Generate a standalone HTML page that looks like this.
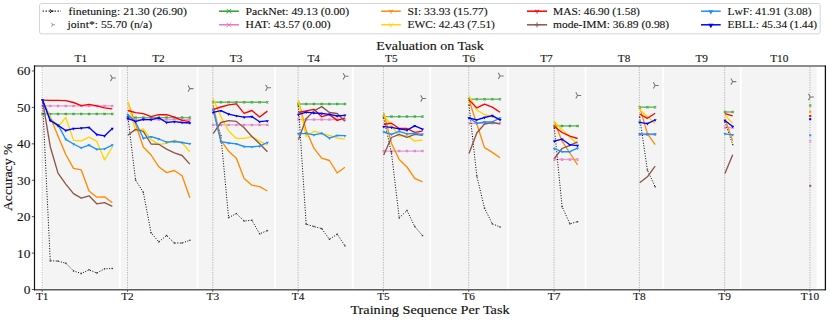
<!DOCTYPE html><html><head><meta charset="utf-8"><style>html,body{margin:0;padding:0;background:#fff;width:830px;height:320px;overflow:hidden}</style></head><body><svg width="830" height="320" viewBox="0 0 830 320" style="display:block">
<rect width="830" height="320" fill="#ffffff"/>
<rect x="43.2" y="67.4" width="75.8" height="221.2" fill="#f4f4f4"/>
<rect x="120.8" y="67.4" width="75.8" height="221.2" fill="#f4f4f4"/>
<rect x="198.4" y="67.4" width="75.8" height="221.2" fill="#f4f4f4"/>
<rect x="276" y="67.4" width="75.8" height="221.2" fill="#f4f4f4"/>
<rect x="353.6" y="67.4" width="75.8" height="221.2" fill="#f4f4f4"/>
<rect x="431.2" y="67.4" width="75.8" height="221.2" fill="#f4f4f4"/>
<rect x="508.8" y="67.4" width="75.8" height="221.2" fill="#f4f4f4"/>
<rect x="586.4" y="67.4" width="75.8" height="221.2" fill="#f4f4f4"/>
<rect x="664" y="67.4" width="75.8" height="221.2" fill="#f4f4f4"/>
<rect x="741.6" y="67.4" width="75" height="221.2" fill="#f4f4f4"/>
<line x1="42.2" y1="67" x2="42.2" y2="289" stroke="#b0b0b0" stroke-width="0.9" stroke-dasharray="1.25 1.25"/>
<line x1="127.5" y1="67" x2="127.5" y2="289" stroke="#b0b0b0" stroke-width="0.9" stroke-dasharray="1.25 1.25"/>
<line x1="212.81" y1="67" x2="212.81" y2="289" stroke="#b0b0b0" stroke-width="0.9" stroke-dasharray="1.25 1.25"/>
<line x1="298.11" y1="67" x2="298.11" y2="289" stroke="#b0b0b0" stroke-width="0.9" stroke-dasharray="1.25 1.25"/>
<line x1="383.42" y1="67" x2="383.42" y2="289" stroke="#b0b0b0" stroke-width="0.9" stroke-dasharray="1.25 1.25"/>
<line x1="468.72" y1="67" x2="468.72" y2="289" stroke="#b0b0b0" stroke-width="0.9" stroke-dasharray="1.25 1.25"/>
<line x1="554.03" y1="67" x2="554.03" y2="289" stroke="#b0b0b0" stroke-width="0.9" stroke-dasharray="1.25 1.25"/>
<line x1="639.34" y1="67" x2="639.34" y2="289" stroke="#b0b0b0" stroke-width="0.9" stroke-dasharray="1.25 1.25"/>
<line x1="724.64" y1="67" x2="724.64" y2="289" stroke="#b0b0b0" stroke-width="0.9" stroke-dasharray="1.25 1.25"/>
<line x1="809.95" y1="67" x2="809.95" y2="289" stroke="#b0b0b0" stroke-width="0.9" stroke-dasharray="1.25 1.25"/>
<polyline points="42.5,113.9 50.26,113.9 58.01,113.9 65.77,113.9 73.52,113.9 81.28,113.9 89.03,113.9 96.78,113.9 104.54,113.9 112.3,113.9" fill="none" stroke="#2ca02c" stroke-opacity="0.7" stroke-width="1.4"/>
<path d="M41.4 112.8L43.6 115M41.4 115L43.6 112.8" stroke="#2ca02c" stroke-width="1.1" fill="none" stroke-opacity="0.8"/>
<path d="M49.16 112.8L51.36 115M49.16 115L51.36 112.8" stroke="#2ca02c" stroke-width="1.1" fill="none" stroke-opacity="0.8"/>
<path d="M56.91 112.8L59.11 115M56.91 115L59.11 112.8" stroke="#2ca02c" stroke-width="1.1" fill="none" stroke-opacity="0.8"/>
<path d="M64.67 112.8L66.86 115M64.67 115L66.86 112.8" stroke="#2ca02c" stroke-width="1.1" fill="none" stroke-opacity="0.8"/>
<path d="M72.42 112.8L74.62 115M72.42 115L74.62 112.8" stroke="#2ca02c" stroke-width="1.1" fill="none" stroke-opacity="0.8"/>
<path d="M80.18 112.8L82.38 115M80.18 115L82.38 112.8" stroke="#2ca02c" stroke-width="1.1" fill="none" stroke-opacity="0.8"/>
<path d="M87.93 112.8L90.13 115M87.93 115L90.13 112.8" stroke="#2ca02c" stroke-width="1.1" fill="none" stroke-opacity="0.8"/>
<path d="M95.69 112.8L97.88 115M95.69 115L97.88 112.8" stroke="#2ca02c" stroke-width="1.1" fill="none" stroke-opacity="0.8"/>
<path d="M103.44 112.8L105.64 115M103.44 115L105.64 112.8" stroke="#2ca02c" stroke-width="1.1" fill="none" stroke-opacity="0.8"/>
<path d="M111.2 112.8L113.39 115M111.2 115L113.39 112.8" stroke="#2ca02c" stroke-width="1.1" fill="none" stroke-opacity="0.8"/>
<polyline points="127.8,117.6 135.56,117.6 143.31,117.6 151.07,117.6 158.82,117.6 166.58,117.6 174.34,117.6 182.09,117.6 189.84,117.6" fill="none" stroke="#2ca02c" stroke-opacity="0.7" stroke-width="1.4"/>
<path d="M126.7 116.5L128.91 118.7M126.7 118.7L128.91 116.5" stroke="#2ca02c" stroke-width="1.1" fill="none" stroke-opacity="0.8"/>
<path d="M134.46 116.5L136.66 118.7M134.46 118.7L136.66 116.5" stroke="#2ca02c" stroke-width="1.1" fill="none" stroke-opacity="0.8"/>
<path d="M142.22 116.5L144.41 118.7M142.22 118.7L144.41 116.5" stroke="#2ca02c" stroke-width="1.1" fill="none" stroke-opacity="0.8"/>
<path d="M149.97 116.5L152.17 118.7M149.97 118.7L152.17 116.5" stroke="#2ca02c" stroke-width="1.1" fill="none" stroke-opacity="0.8"/>
<path d="M157.72 116.5L159.92 118.7M157.72 118.7L159.92 116.5" stroke="#2ca02c" stroke-width="1.1" fill="none" stroke-opacity="0.8"/>
<path d="M165.48 116.5L167.68 118.7M165.48 118.7L167.68 116.5" stroke="#2ca02c" stroke-width="1.1" fill="none" stroke-opacity="0.8"/>
<path d="M173.24 116.5L175.44 118.7M173.24 118.7L175.44 116.5" stroke="#2ca02c" stroke-width="1.1" fill="none" stroke-opacity="0.8"/>
<path d="M180.99 116.5L183.19 118.7M180.99 118.7L183.19 116.5" stroke="#2ca02c" stroke-width="1.1" fill="none" stroke-opacity="0.8"/>
<path d="M188.75 116.5L190.94 118.7M188.75 118.7L190.94 116.5" stroke="#2ca02c" stroke-width="1.1" fill="none" stroke-opacity="0.8"/>
<polyline points="213.11,102.3 220.87,102.3 228.62,102.3 236.38,102.3 244.13,102.3 251.88,102.3 259.64,102.3 267.39,102.3" fill="none" stroke="#2ca02c" stroke-opacity="0.7" stroke-width="1.4"/>
<path d="M212.01 101.2L214.21 103.4M212.01 103.4L214.21 101.2" stroke="#2ca02c" stroke-width="1.1" fill="none" stroke-opacity="0.8"/>
<path d="M219.77 101.2L221.97 103.4M219.77 103.4L221.97 101.2" stroke="#2ca02c" stroke-width="1.1" fill="none" stroke-opacity="0.8"/>
<path d="M227.52 101.2L229.72 103.4M227.52 103.4L229.72 101.2" stroke="#2ca02c" stroke-width="1.1" fill="none" stroke-opacity="0.8"/>
<path d="M235.28 101.2L237.47 103.4M235.28 103.4L237.47 101.2" stroke="#2ca02c" stroke-width="1.1" fill="none" stroke-opacity="0.8"/>
<path d="M243.03 101.2L245.23 103.4M243.03 103.4L245.23 101.2" stroke="#2ca02c" stroke-width="1.1" fill="none" stroke-opacity="0.8"/>
<path d="M250.78 101.2L252.98 103.4M250.78 103.4L252.98 101.2" stroke="#2ca02c" stroke-width="1.1" fill="none" stroke-opacity="0.8"/>
<path d="M258.54 101.2L260.74 103.4M258.54 103.4L260.74 101.2" stroke="#2ca02c" stroke-width="1.1" fill="none" stroke-opacity="0.8"/>
<path d="M266.29 101.2L268.5 103.4M266.29 103.4L268.5 101.2" stroke="#2ca02c" stroke-width="1.1" fill="none" stroke-opacity="0.8"/>
<polyline points="298.41,104 306.17,104 313.93,104 321.68,104 329.44,104 337.19,104 344.94,104" fill="none" stroke="#2ca02c" stroke-opacity="0.7" stroke-width="1.4"/>
<path d="M297.31 102.9L299.51 105.1M297.31 105.1L299.51 102.9" stroke="#2ca02c" stroke-width="1.1" fill="none" stroke-opacity="0.8"/>
<path d="M305.07 102.9L307.27 105.1M305.07 105.1L307.27 102.9" stroke="#2ca02c" stroke-width="1.1" fill="none" stroke-opacity="0.8"/>
<path d="M312.82 102.9L315.03 105.1M312.82 105.1L315.03 102.9" stroke="#2ca02c" stroke-width="1.1" fill="none" stroke-opacity="0.8"/>
<path d="M320.58 102.9L322.78 105.1M320.58 105.1L322.78 102.9" stroke="#2ca02c" stroke-width="1.1" fill="none" stroke-opacity="0.8"/>
<path d="M328.33 102.9L330.54 105.1M328.33 105.1L330.54 102.9" stroke="#2ca02c" stroke-width="1.1" fill="none" stroke-opacity="0.8"/>
<path d="M336.09 102.9L338.29 105.1M336.09 105.1L338.29 102.9" stroke="#2ca02c" stroke-width="1.1" fill="none" stroke-opacity="0.8"/>
<path d="M343.84 102.9L346.05 105.1M343.84 105.1L346.05 102.9" stroke="#2ca02c" stroke-width="1.1" fill="none" stroke-opacity="0.8"/>
<polyline points="383.72,116.6 391.48,116.6 399.23,116.6 406.99,116.6 414.74,116.6 422.5,116.6" fill="none" stroke="#2ca02c" stroke-opacity="0.7" stroke-width="1.4"/>
<path d="M382.62 115.5L384.82 117.7M382.62 117.7L384.82 115.5" stroke="#2ca02c" stroke-width="1.1" fill="none" stroke-opacity="0.8"/>
<path d="M390.38 115.5L392.58 117.7M390.38 117.7L392.58 115.5" stroke="#2ca02c" stroke-width="1.1" fill="none" stroke-opacity="0.8"/>
<path d="M398.13 115.5L400.33 117.7M398.13 117.7L400.33 115.5" stroke="#2ca02c" stroke-width="1.1" fill="none" stroke-opacity="0.8"/>
<path d="M405.88 115.5L408.09 117.7M405.88 117.7L408.09 115.5" stroke="#2ca02c" stroke-width="1.1" fill="none" stroke-opacity="0.8"/>
<path d="M413.64 115.5L415.84 117.7M413.64 117.7L415.84 115.5" stroke="#2ca02c" stroke-width="1.1" fill="none" stroke-opacity="0.8"/>
<path d="M421.39 115.5L423.6 117.7M421.39 117.7L423.6 115.5" stroke="#2ca02c" stroke-width="1.1" fill="none" stroke-opacity="0.8"/>
<polyline points="469.02,99.2 476.78,99.2 484.53,99.2 492.29,99.2 500.05,99.2" fill="none" stroke="#2ca02c" stroke-opacity="0.7" stroke-width="1.4"/>
<path d="M467.92 98.1L470.12 100.3M467.92 100.3L470.12 98.1" stroke="#2ca02c" stroke-width="1.1" fill="none" stroke-opacity="0.8"/>
<path d="M475.68 98.1L477.88 100.3M475.68 100.3L477.88 98.1" stroke="#2ca02c" stroke-width="1.1" fill="none" stroke-opacity="0.8"/>
<path d="M483.43 98.1L485.63 100.3M483.43 100.3L485.63 98.1" stroke="#2ca02c" stroke-width="1.1" fill="none" stroke-opacity="0.8"/>
<path d="M491.19 98.1L493.39 100.3M491.19 100.3L493.39 98.1" stroke="#2ca02c" stroke-width="1.1" fill="none" stroke-opacity="0.8"/>
<path d="M498.94 98.1L501.15 100.3M498.94 100.3L501.15 98.1" stroke="#2ca02c" stroke-width="1.1" fill="none" stroke-opacity="0.8"/>
<polyline points="554.33,125.9 562.09,125.9 569.84,125.9 577.6,125.9" fill="none" stroke="#2ca02c" stroke-opacity="0.7" stroke-width="1.4"/>
<path d="M553.23 124.8L555.43 127M553.23 127L555.43 124.8" stroke="#2ca02c" stroke-width="1.1" fill="none" stroke-opacity="0.8"/>
<path d="M560.99 124.8L563.19 127M560.99 127L563.19 124.8" stroke="#2ca02c" stroke-width="1.1" fill="none" stroke-opacity="0.8"/>
<path d="M568.74 124.8L570.94 127M568.74 127L570.94 124.8" stroke="#2ca02c" stroke-width="1.1" fill="none" stroke-opacity="0.8"/>
<path d="M576.5 124.8L578.7 127M576.5 127L578.7 124.8" stroke="#2ca02c" stroke-width="1.1" fill="none" stroke-opacity="0.8"/>
<polyline points="639.63,107.2 647.39,107.2 655.14,107.2" fill="none" stroke="#2ca02c" stroke-opacity="0.7" stroke-width="1.4"/>
<path d="M638.53 106.1L640.74 108.3M638.53 108.3L640.74 106.1" stroke="#2ca02c" stroke-width="1.1" fill="none" stroke-opacity="0.8"/>
<path d="M646.29 106.1L648.49 108.3M646.29 108.3L648.49 106.1" stroke="#2ca02c" stroke-width="1.1" fill="none" stroke-opacity="0.8"/>
<path d="M654.04 106.1L656.25 108.3M654.04 108.3L656.25 106.1" stroke="#2ca02c" stroke-width="1.1" fill="none" stroke-opacity="0.8"/>
<polyline points="724.94,112 732.69,112" fill="none" stroke="#2ca02c" stroke-opacity="0.7" stroke-width="1.4"/>
<path d="M723.84 110.9L726.04 113.1M723.84 113.1L726.04 110.9" stroke="#2ca02c" stroke-width="1.1" fill="none" stroke-opacity="0.8"/>
<path d="M731.59 110.9L733.79 113.1M731.59 113.1L733.79 110.9" stroke="#2ca02c" stroke-width="1.1" fill="none" stroke-opacity="0.8"/>
<path d="M809.14 104.5L811.35 106.7M809.14 106.7L811.35 104.5" stroke="#2ca02c" stroke-width="1.1" fill="none" stroke-opacity="0.8"/>
<polyline points="42.5,105.9 50.26,105.9 58.01,105.9 65.77,105.9 73.52,105.9 81.28,105.9 89.03,105.9 96.78,105.9 104.54,105.9 112.3,105.9" fill="none" stroke="#e377c2" stroke-opacity="0.7" stroke-width="1.4"/>
<path d="M41.4 104.8L43.6 107M41.4 107L43.6 104.8" stroke="#e377c2" stroke-width="1.1" fill="none" stroke-opacity="0.8"/>
<path d="M49.16 104.8L51.36 107M49.16 107L51.36 104.8" stroke="#e377c2" stroke-width="1.1" fill="none" stroke-opacity="0.8"/>
<path d="M56.91 104.8L59.11 107M56.91 107L59.11 104.8" stroke="#e377c2" stroke-width="1.1" fill="none" stroke-opacity="0.8"/>
<path d="M64.67 104.8L66.86 107M64.67 107L66.86 104.8" stroke="#e377c2" stroke-width="1.1" fill="none" stroke-opacity="0.8"/>
<path d="M72.42 104.8L74.62 107M72.42 107L74.62 104.8" stroke="#e377c2" stroke-width="1.1" fill="none" stroke-opacity="0.8"/>
<path d="M80.18 104.8L82.38 107M80.18 107L82.38 104.8" stroke="#e377c2" stroke-width="1.1" fill="none" stroke-opacity="0.8"/>
<path d="M87.93 104.8L90.13 107M87.93 107L90.13 104.8" stroke="#e377c2" stroke-width="1.1" fill="none" stroke-opacity="0.8"/>
<path d="M95.69 104.8L97.88 107M95.69 107L97.88 104.8" stroke="#e377c2" stroke-width="1.1" fill="none" stroke-opacity="0.8"/>
<path d="M103.44 104.8L105.64 107M103.44 107L105.64 104.8" stroke="#e377c2" stroke-width="1.1" fill="none" stroke-opacity="0.8"/>
<path d="M111.2 104.8L113.39 107M111.2 107L113.39 104.8" stroke="#e377c2" stroke-width="1.1" fill="none" stroke-opacity="0.8"/>
<polyline points="127.8,119.6 135.56,119.6 143.31,119.6 151.07,119.6 158.82,119.6 166.58,119.6 174.34,119.6 182.09,119.6 189.84,119.6" fill="none" stroke="#e377c2" stroke-opacity="0.7" stroke-width="1.4"/>
<path d="M126.7 118.5L128.91 120.7M126.7 120.7L128.91 118.5" stroke="#e377c2" stroke-width="1.1" fill="none" stroke-opacity="0.8"/>
<path d="M134.46 118.5L136.66 120.7M134.46 120.7L136.66 118.5" stroke="#e377c2" stroke-width="1.1" fill="none" stroke-opacity="0.8"/>
<path d="M142.22 118.5L144.41 120.7M142.22 120.7L144.41 118.5" stroke="#e377c2" stroke-width="1.1" fill="none" stroke-opacity="0.8"/>
<path d="M149.97 118.5L152.17 120.7M149.97 120.7L152.17 118.5" stroke="#e377c2" stroke-width="1.1" fill="none" stroke-opacity="0.8"/>
<path d="M157.72 118.5L159.92 120.7M157.72 120.7L159.92 118.5" stroke="#e377c2" stroke-width="1.1" fill="none" stroke-opacity="0.8"/>
<path d="M165.48 118.5L167.68 120.7M165.48 120.7L167.68 118.5" stroke="#e377c2" stroke-width="1.1" fill="none" stroke-opacity="0.8"/>
<path d="M173.24 118.5L175.44 120.7M173.24 120.7L175.44 118.5" stroke="#e377c2" stroke-width="1.1" fill="none" stroke-opacity="0.8"/>
<path d="M180.99 118.5L183.19 120.7M180.99 120.7L183.19 118.5" stroke="#e377c2" stroke-width="1.1" fill="none" stroke-opacity="0.8"/>
<path d="M188.75 118.5L190.94 120.7M188.75 120.7L190.94 118.5" stroke="#e377c2" stroke-width="1.1" fill="none" stroke-opacity="0.8"/>
<polyline points="213.11,124.9 220.87,124.9 228.62,124.9 236.38,124.9 244.13,124.9 251.88,124.9 259.64,124.9 267.39,124.9" fill="none" stroke="#e377c2" stroke-opacity="0.7" stroke-width="1.4"/>
<path d="M212.01 123.8L214.21 126M212.01 126L214.21 123.8" stroke="#e377c2" stroke-width="1.1" fill="none" stroke-opacity="0.8"/>
<path d="M219.77 123.8L221.97 126M219.77 126L221.97 123.8" stroke="#e377c2" stroke-width="1.1" fill="none" stroke-opacity="0.8"/>
<path d="M227.52 123.8L229.72 126M227.52 126L229.72 123.8" stroke="#e377c2" stroke-width="1.1" fill="none" stroke-opacity="0.8"/>
<path d="M235.28 123.8L237.47 126M235.28 126L237.47 123.8" stroke="#e377c2" stroke-width="1.1" fill="none" stroke-opacity="0.8"/>
<path d="M243.03 123.8L245.23 126M243.03 126L245.23 123.8" stroke="#e377c2" stroke-width="1.1" fill="none" stroke-opacity="0.8"/>
<path d="M250.78 123.8L252.98 126M250.78 126L252.98 123.8" stroke="#e377c2" stroke-width="1.1" fill="none" stroke-opacity="0.8"/>
<path d="M258.54 123.8L260.74 126M258.54 126L260.74 123.8" stroke="#e377c2" stroke-width="1.1" fill="none" stroke-opacity="0.8"/>
<path d="M266.29 123.8L268.5 126M266.29 126L268.5 123.8" stroke="#e377c2" stroke-width="1.1" fill="none" stroke-opacity="0.8"/>
<polyline points="298.41,119.6 306.17,119.6 313.93,119.6 321.68,119.6 329.44,119.6 337.19,119.6 344.94,119.6" fill="none" stroke="#e377c2" stroke-opacity="0.7" stroke-width="1.4"/>
<path d="M297.31 118.5L299.51 120.7M297.31 120.7L299.51 118.5" stroke="#e377c2" stroke-width="1.1" fill="none" stroke-opacity="0.8"/>
<path d="M305.07 118.5L307.27 120.7M305.07 120.7L307.27 118.5" stroke="#e377c2" stroke-width="1.1" fill="none" stroke-opacity="0.8"/>
<path d="M312.82 118.5L315.03 120.7M312.82 120.7L315.03 118.5" stroke="#e377c2" stroke-width="1.1" fill="none" stroke-opacity="0.8"/>
<path d="M320.58 118.5L322.78 120.7M320.58 120.7L322.78 118.5" stroke="#e377c2" stroke-width="1.1" fill="none" stroke-opacity="0.8"/>
<path d="M328.33 118.5L330.54 120.7M328.33 120.7L330.54 118.5" stroke="#e377c2" stroke-width="1.1" fill="none" stroke-opacity="0.8"/>
<path d="M336.09 118.5L338.29 120.7M336.09 120.7L338.29 118.5" stroke="#e377c2" stroke-width="1.1" fill="none" stroke-opacity="0.8"/>
<path d="M343.84 118.5L346.05 120.7M343.84 120.7L346.05 118.5" stroke="#e377c2" stroke-width="1.1" fill="none" stroke-opacity="0.8"/>
<polyline points="383.72,151.1 391.48,151.1 399.23,151.1 406.99,151.1 414.74,151.1 422.5,151.1" fill="none" stroke="#e377c2" stroke-opacity="0.7" stroke-width="1.4"/>
<path d="M382.62 150L384.82 152.2M382.62 152.2L384.82 150" stroke="#e377c2" stroke-width="1.1" fill="none" stroke-opacity="0.8"/>
<path d="M390.38 150L392.58 152.2M390.38 152.2L392.58 150" stroke="#e377c2" stroke-width="1.1" fill="none" stroke-opacity="0.8"/>
<path d="M398.13 150L400.33 152.2M398.13 152.2L400.33 150" stroke="#e377c2" stroke-width="1.1" fill="none" stroke-opacity="0.8"/>
<path d="M405.88 150L408.09 152.2M405.88 152.2L408.09 150" stroke="#e377c2" stroke-width="1.1" fill="none" stroke-opacity="0.8"/>
<path d="M413.64 150L415.84 152.2M413.64 152.2L415.84 150" stroke="#e377c2" stroke-width="1.1" fill="none" stroke-opacity="0.8"/>
<path d="M421.39 150L423.6 152.2M421.39 152.2L423.6 150" stroke="#e377c2" stroke-width="1.1" fill="none" stroke-opacity="0.8"/>
<polyline points="469.02,123.3 476.78,123.3 484.53,123.3 492.29,123.3 500.05,123.3" fill="none" stroke="#e377c2" stroke-opacity="0.7" stroke-width="1.4"/>
<path d="M467.92 122.2L470.12 124.4M467.92 124.4L470.12 122.2" stroke="#e377c2" stroke-width="1.1" fill="none" stroke-opacity="0.8"/>
<path d="M475.68 122.2L477.88 124.4M475.68 124.4L477.88 122.2" stroke="#e377c2" stroke-width="1.1" fill="none" stroke-opacity="0.8"/>
<path d="M483.43 122.2L485.63 124.4M483.43 124.4L485.63 122.2" stroke="#e377c2" stroke-width="1.1" fill="none" stroke-opacity="0.8"/>
<path d="M491.19 122.2L493.39 124.4M491.19 124.4L493.39 122.2" stroke="#e377c2" stroke-width="1.1" fill="none" stroke-opacity="0.8"/>
<path d="M498.94 122.2L501.15 124.4M498.94 124.4L501.15 122.2" stroke="#e377c2" stroke-width="1.1" fill="none" stroke-opacity="0.8"/>
<polyline points="554.33,159.4 562.09,159.4 569.84,159.4 577.6,159.4" fill="none" stroke="#e377c2" stroke-opacity="0.7" stroke-width="1.4"/>
<path d="M553.23 158.3L555.43 160.5M553.23 160.5L555.43 158.3" stroke="#e377c2" stroke-width="1.1" fill="none" stroke-opacity="0.8"/>
<path d="M560.99 158.3L563.19 160.5M560.99 160.5L563.19 158.3" stroke="#e377c2" stroke-width="1.1" fill="none" stroke-opacity="0.8"/>
<path d="M568.74 158.3L570.94 160.5M568.74 160.5L570.94 158.3" stroke="#e377c2" stroke-width="1.1" fill="none" stroke-opacity="0.8"/>
<path d="M576.5 158.3L578.7 160.5M576.5 160.5L578.7 158.3" stroke="#e377c2" stroke-width="1.1" fill="none" stroke-opacity="0.8"/>
<polyline points="639.63,134.6 647.39,134.6 655.14,134.6" fill="none" stroke="#e377c2" stroke-opacity="0.7" stroke-width="1.4"/>
<path d="M638.53 133.5L640.74 135.7M638.53 135.7L640.74 133.5" stroke="#e377c2" stroke-width="1.1" fill="none" stroke-opacity="0.8"/>
<path d="M646.29 133.5L648.49 135.7M646.29 135.7L648.49 133.5" stroke="#e377c2" stroke-width="1.1" fill="none" stroke-opacity="0.8"/>
<path d="M654.04 133.5L656.25 135.7M654.04 135.7L656.25 133.5" stroke="#e377c2" stroke-width="1.1" fill="none" stroke-opacity="0.8"/>
<polyline points="724.94,127.6 732.69,127.6" fill="none" stroke="#e377c2" stroke-opacity="0.7" stroke-width="1.4"/>
<path d="M723.84 126.5L726.04 128.7M723.84 128.7L726.04 126.5" stroke="#e377c2" stroke-width="1.1" fill="none" stroke-opacity="0.8"/>
<path d="M731.59 126.5L733.79 128.7M731.59 128.7L733.79 126.5" stroke="#e377c2" stroke-width="1.1" fill="none" stroke-opacity="0.8"/>
<path d="M809.14 140.1L811.35 142.3M809.14 142.3L811.35 140.1" stroke="#e377c2" stroke-width="1.1" fill="none" stroke-opacity="0.8"/>
<polyline points="42.5,100.1 50.26,260.8 58.01,261.1 65.77,263.2 73.52,270.9 81.28,273.5 89.03,269.8 96.78,273 104.54,268.8 112.3,268.5" fill="none" stroke="#000" stroke-width="1" stroke-dasharray="1 1.6"/>
<rect x="41.8" y="99.4" width="1.4" height="1.4" fill="#444"/>
<rect x="49.55" y="260.1" width="1.4" height="1.4" fill="#444"/>
<rect x="57.31" y="260.4" width="1.4" height="1.4" fill="#444"/>
<rect x="65.06" y="262.5" width="1.4" height="1.4" fill="#444"/>
<rect x="72.82" y="270.2" width="1.4" height="1.4" fill="#444"/>
<rect x="80.58" y="272.8" width="1.4" height="1.4" fill="#444"/>
<rect x="88.33" y="269.1" width="1.4" height="1.4" fill="#444"/>
<rect x="96.08" y="272.3" width="1.4" height="1.4" fill="#444"/>
<rect x="103.84" y="268.1" width="1.4" height="1.4" fill="#444"/>
<rect x="111.59" y="267.8" width="1.4" height="1.4" fill="#444"/>
<polyline points="127.8,116 135.56,180.1 143.31,192.3 151.07,232.8 158.82,241.9 166.58,235.5 174.34,243 182.09,243 189.84,240.3" fill="none" stroke="#000" stroke-width="1" stroke-dasharray="1 1.6"/>
<rect x="127.1" y="115.3" width="1.4" height="1.4" fill="#444"/>
<rect x="134.86" y="179.4" width="1.4" height="1.4" fill="#444"/>
<rect x="142.62" y="191.6" width="1.4" height="1.4" fill="#444"/>
<rect x="150.37" y="232.1" width="1.4" height="1.4" fill="#444"/>
<rect x="158.12" y="241.2" width="1.4" height="1.4" fill="#444"/>
<rect x="165.88" y="234.8" width="1.4" height="1.4" fill="#444"/>
<rect x="173.64" y="242.3" width="1.4" height="1.4" fill="#444"/>
<rect x="181.39" y="242.3" width="1.4" height="1.4" fill="#444"/>
<rect x="189.15" y="239.6" width="1.4" height="1.4" fill="#444"/>
<polyline points="213.11,110 220.87,135.6 228.62,217.6 236.38,213.6 244.13,221 251.88,220.3 259.64,233.8 267.39,230.6" fill="none" stroke="#000" stroke-width="1" stroke-dasharray="1 1.6"/>
<rect x="212.41" y="109.3" width="1.4" height="1.4" fill="#444"/>
<rect x="220.17" y="134.9" width="1.4" height="1.4" fill="#444"/>
<rect x="227.92" y="216.9" width="1.4" height="1.4" fill="#444"/>
<rect x="235.68" y="212.9" width="1.4" height="1.4" fill="#444"/>
<rect x="243.43" y="220.3" width="1.4" height="1.4" fill="#444"/>
<rect x="251.19" y="219.6" width="1.4" height="1.4" fill="#444"/>
<rect x="258.94" y="233.1" width="1.4" height="1.4" fill="#444"/>
<rect x="266.69" y="229.9" width="1.4" height="1.4" fill="#444"/>
<polyline points="298.41,106 306.17,224.2 313.93,226.5 321.68,228.6 329.44,239.3 337.19,234.2 344.94,245.8" fill="none" stroke="#000" stroke-width="1" stroke-dasharray="1 1.6"/>
<rect x="297.71" y="105.3" width="1.4" height="1.4" fill="#444"/>
<rect x="305.47" y="223.5" width="1.4" height="1.4" fill="#444"/>
<rect x="313.23" y="225.8" width="1.4" height="1.4" fill="#444"/>
<rect x="320.98" y="227.9" width="1.4" height="1.4" fill="#444"/>
<rect x="328.74" y="238.6" width="1.4" height="1.4" fill="#444"/>
<rect x="336.49" y="233.5" width="1.4" height="1.4" fill="#444"/>
<rect x="344.25" y="245.1" width="1.4" height="1.4" fill="#444"/>
<polyline points="383.72,118 391.48,153 399.23,217.9 406.99,210.5 414.74,226.5 422.5,235.6" fill="none" stroke="#000" stroke-width="1" stroke-dasharray="1 1.6"/>
<rect x="383.02" y="117.3" width="1.4" height="1.4" fill="#444"/>
<rect x="390.78" y="152.3" width="1.4" height="1.4" fill="#444"/>
<rect x="398.53" y="217.2" width="1.4" height="1.4" fill="#444"/>
<rect x="406.29" y="209.8" width="1.4" height="1.4" fill="#444"/>
<rect x="414.04" y="225.8" width="1.4" height="1.4" fill="#444"/>
<rect x="421.8" y="234.9" width="1.4" height="1.4" fill="#444"/>
<polyline points="469.02,105 476.78,176 484.53,208.2 492.29,223.8 500.05,227" fill="none" stroke="#000" stroke-width="1" stroke-dasharray="1 1.6"/>
<rect x="468.32" y="104.3" width="1.4" height="1.4" fill="#444"/>
<rect x="476.08" y="175.3" width="1.4" height="1.4" fill="#444"/>
<rect x="483.83" y="207.5" width="1.4" height="1.4" fill="#444"/>
<rect x="491.59" y="223.1" width="1.4" height="1.4" fill="#444"/>
<rect x="499.35" y="226.3" width="1.4" height="1.4" fill="#444"/>
<polyline points="554.33,128 562.09,206.6 569.84,223.8 577.6,221.7" fill="none" stroke="#000" stroke-width="1" stroke-dasharray="1 1.6"/>
<rect x="553.63" y="127.3" width="1.4" height="1.4" fill="#444"/>
<rect x="561.38" y="205.9" width="1.4" height="1.4" fill="#444"/>
<rect x="569.14" y="223.1" width="1.4" height="1.4" fill="#444"/>
<rect x="576.89" y="221" width="1.4" height="1.4" fill="#444"/>
<polyline points="639.63,117 647.39,170 655.14,186.8" fill="none" stroke="#000" stroke-width="1" stroke-dasharray="1 1.6"/>
<rect x="638.93" y="116.3" width="1.4" height="1.4" fill="#444"/>
<rect x="646.69" y="169.3" width="1.4" height="1.4" fill="#444"/>
<rect x="654.44" y="186.1" width="1.4" height="1.4" fill="#444"/>
<polyline points="724.94,122 732.69,144.6" fill="none" stroke="#000" stroke-width="1" stroke-dasharray="1 1.6"/>
<rect x="724.24" y="121.3" width="1.4" height="1.4" fill="#444"/>
<rect x="731.99" y="143.9" width="1.4" height="1.4" fill="#444"/>
<rect x="809.54" y="118.5" width="1.4" height="1.4" fill="#444"/>
<polyline points="42.5,100.1 50.26,117 58.01,136 65.77,154.5 73.52,168.3 81.28,169.9 89.03,191 96.78,197.2 104.54,196.8 112.3,202.7" fill="none" stroke="#ff8c00" stroke-width="1.35" stroke-linejoin="round"/>
<polyline points="127.8,102 135.56,124 143.31,147 151.07,155 158.82,166.8 166.58,172.6 174.34,170.5 182.09,175.8 189.84,197.7" fill="none" stroke="#ff8c00" stroke-width="1.35" stroke-linejoin="round"/>
<polyline points="213.11,104.8 220.87,140.1 228.62,151.3 236.38,158.3 244.13,178.4 251.88,185.2 259.64,186.7 267.39,191" fill="none" stroke="#ff8c00" stroke-width="1.35" stroke-linejoin="round"/>
<polyline points="298.41,100.5 306.17,130.6 313.93,148.2 321.68,158.1 329.44,160.5 337.19,173 344.94,167.3" fill="none" stroke="#ff8c00" stroke-width="1.35" stroke-linejoin="round"/>
<polyline points="383.72,112.8 391.48,143.5 399.23,159.5 406.99,167 414.74,178.3 422.5,181.8" fill="none" stroke="#ff8c00" stroke-width="1.35" stroke-linejoin="round"/>
<polyline points="469.02,100 476.78,124 484.53,147.6 492.29,152.4 500.05,157.7" fill="none" stroke="#ff8c00" stroke-width="1.35" stroke-linejoin="round"/>
<polyline points="554.33,121.5 562.09,141.2 569.84,153 577.6,164.9" fill="none" stroke="#ff8c00" stroke-width="1.35" stroke-linejoin="round"/>
<polyline points="639.63,106.9 647.39,133.6 655.14,144.7" fill="none" stroke="#ff8c00" stroke-width="1.35" stroke-linejoin="round"/>
<polyline points="724.94,118.9 732.69,140.9" fill="none" stroke="#ff8c00" stroke-width="1.35" stroke-linejoin="round"/>
<rect x="809.25" y="110.8" width="2" height="2" fill="#ff8c00"/>
<polyline points="42.5,100.1 50.26,117.5 58.01,127 65.77,117.4 73.52,140.3 81.28,140.8 89.03,137.1 96.78,141.4 104.54,159.8 112.3,147" fill="none" stroke="#ffd700" stroke-width="1.35" stroke-linejoin="round"/>
<polyline points="127.8,102 135.56,131 143.31,129 151.07,139.6 158.82,144.3 166.58,143.3 174.34,140.1 182.09,142.8 189.84,151.8" fill="none" stroke="#ffd700" stroke-width="1.35" stroke-linejoin="round"/>
<polyline points="213.11,98.5 220.87,116.4 228.62,131 236.38,138.4 244.13,138.3 251.88,136.6 259.64,141.2 267.39,144.9" fill="none" stroke="#ffd700" stroke-width="1.35" stroke-linejoin="round"/>
<polyline points="298.41,100.5 306.17,136.5 313.93,131.2 321.68,133.3 329.44,135.4 337.19,138.1 344.94,139.1" fill="none" stroke="#ffd700" stroke-width="1.35" stroke-linejoin="round"/>
<polyline points="383.72,115.5 391.48,125.5 399.23,136.2 406.99,135.4 414.74,141.1 422.5,140" fill="none" stroke="#ffd700" stroke-width="1.35" stroke-linejoin="round"/>
<polyline points="469.02,95.7 476.78,110.1 484.53,114.5 492.29,117 500.05,119.1" fill="none" stroke="#ffd700" stroke-width="1.35" stroke-linejoin="round"/>
<polyline points="554.33,121.5 562.09,129.8 569.84,136.7 577.6,144.2" fill="none" stroke="#ffd700" stroke-width="1.35" stroke-linejoin="round"/>
<polyline points="639.63,109.6 647.39,116.5 655.14,123.4" fill="none" stroke="#ffd700" stroke-width="1.35" stroke-linejoin="round"/>
<polyline points="724.94,115.2 732.69,123.1" fill="none" stroke="#ffd700" stroke-width="1.35" stroke-linejoin="round"/>
<rect x="809.25" y="115" width="2" height="2" fill="#ffd700"/>
<polyline points="42.5,100.1 50.26,100.3 58.01,100.3 65.77,100.6 73.52,102.5 81.28,105.6 89.03,104.3 96.78,105.9 104.54,107.9 112.3,108.9" fill="none" stroke="#ff0000" stroke-width="1.35" stroke-linejoin="round"/>
<polyline points="127.8,110.5 135.56,112.6 143.31,113.7 151.07,116.6 158.82,114.7 166.58,114.7 174.34,117.2 182.09,120.3 189.84,121.7" fill="none" stroke="#ff0000" stroke-width="1.35" stroke-linejoin="round"/>
<polyline points="213.11,109.7 220.87,107 228.62,104.8 236.38,103.8 244.13,113.4 251.88,110.5 259.64,117 267.39,111.1" fill="none" stroke="#ff0000" stroke-width="1.35" stroke-linejoin="round"/>
<polyline points="298.41,112.5 306.17,110.9 313.93,109.3 321.68,116.7 329.44,114.6 337.19,120.4 344.94,117.8" fill="none" stroke="#ff0000" stroke-width="1.35" stroke-linejoin="round"/>
<polyline points="383.72,124.5 391.48,123.2 399.23,128.5 406.99,128.5 414.74,132.4 422.5,131.1" fill="none" stroke="#ff0000" stroke-width="1.35" stroke-linejoin="round"/>
<polyline points="469.02,100 476.78,107.9 484.53,104.2 492.29,107.1 500.05,112.2" fill="none" stroke="#ff0000" stroke-width="1.35" stroke-linejoin="round"/>
<polyline points="554.33,126.6 562.09,132.5 569.84,136.2 577.6,138.5" fill="none" stroke="#ff0000" stroke-width="1.35" stroke-linejoin="round"/>
<polyline points="639.63,114 647.39,118.3 655.14,113.3" fill="none" stroke="#ff0000" stroke-width="1.35" stroke-linejoin="round"/>
<polyline points="724.94,113.6 732.69,115.9" fill="none" stroke="#ff0000" stroke-width="1.35" stroke-linejoin="round"/>
<rect x="809.25" y="115" width="2" height="2" fill="#ff0000"/>
<polyline points="42.5,100.1 50.26,146.7 58.01,173.1 65.77,184.1 73.52,193.7 81.28,198.2 89.03,195.8 96.78,203.8 104.54,202.7 112.3,206.4" fill="none" stroke="#8c564b" stroke-width="1.35" stroke-linejoin="round"/>
<polyline points="127.8,135.3 135.56,129.4 143.31,131.4 151.07,144 158.82,144.3 166.58,149.1 174.34,152.8 182.09,155.5 189.84,164.1" fill="none" stroke="#8c564b" stroke-width="1.35" stroke-linejoin="round"/>
<polyline points="213.11,133.6 220.87,122.5 228.62,120.7 236.38,121.4 244.13,127.8 251.88,136.5 259.64,143.8 267.39,151.8" fill="none" stroke="#8c564b" stroke-width="1.35" stroke-linejoin="round"/>
<polyline points="298.41,139.7 306.17,118.8 313.93,110.9 321.68,106.6 329.44,112.5 337.19,113.5 344.94,121.3" fill="none" stroke="#8c564b" stroke-width="1.35" stroke-linejoin="round"/>
<polyline points="383.72,155 391.48,137.5 399.23,134.3 406.99,137.3 414.74,134.3 422.5,135.4" fill="none" stroke="#8c564b" stroke-width="1.35" stroke-linejoin="round"/>
<polyline points="469.02,153.4 476.78,133 484.53,124 492.29,122.5 500.05,123.8" fill="none" stroke="#8c564b" stroke-width="1.35" stroke-linejoin="round"/>
<polyline points="554.33,158.5 562.09,148.5 569.84,145.3 577.6,141.8" fill="none" stroke="#8c564b" stroke-width="1.35" stroke-linejoin="round"/>
<polyline points="639.63,182.7 647.39,176.8 655.14,166.2" fill="none" stroke="#8c564b" stroke-width="1.35" stroke-linejoin="round"/>
<polyline points="724.94,173.6 732.69,154.7" fill="none" stroke="#8c564b" stroke-width="1.35" stroke-linejoin="round"/>
<rect x="809.25" y="184.8" width="2" height="2" fill="#8c564b"/>
<polyline points="42.5,100.1 50.26,120.1 58.01,124.9 65.77,139.3 73.52,144 81.28,147.8 89.03,145.1 96.78,149.3 104.54,148.8 112.3,145.1" fill="none" stroke="#1e90ff" stroke-width="1.35" stroke-linejoin="round"/>
<path d="M41 99.35H44L42.5 101.9Z" fill="#1e90ff"/>
<path d="M48.76 119.35H51.76L50.26 121.9Z" fill="#1e90ff"/>
<path d="M56.51 124.15H59.51L58.01 126.7Z" fill="#1e90ff"/>
<path d="M64.27 138.55H67.27L65.77 141.1Z" fill="#1e90ff"/>
<path d="M72.02 143.25H75.02L73.52 145.8Z" fill="#1e90ff"/>
<path d="M79.78 147.05H82.78L81.28 149.6Z" fill="#1e90ff"/>
<path d="M87.53 144.35H90.53L89.03 146.9Z" fill="#1e90ff"/>
<path d="M95.28 148.55H98.28L96.78 151.1Z" fill="#1e90ff"/>
<path d="M103.04 148.05H106.04L104.54 150.6Z" fill="#1e90ff"/>
<path d="M110.8 144.35H113.8L112.3 146.9Z" fill="#1e90ff"/>
<polyline points="127.8,114.6 135.56,122 143.31,138.3 151.07,136.7 158.82,139 166.58,142.2 174.34,141.5 182.09,142.5 189.84,143.8" fill="none" stroke="#1e90ff" stroke-width="1.35" stroke-linejoin="round"/>
<path d="M126.3 113.85H129.31L127.8 116.4Z" fill="#1e90ff"/>
<path d="M134.06 121.25H137.06L135.56 123.8Z" fill="#1e90ff"/>
<path d="M141.81 137.55H144.81L143.31 140.1Z" fill="#1e90ff"/>
<path d="M149.57 135.95H152.57L151.07 138.5Z" fill="#1e90ff"/>
<path d="M157.32 138.25H160.32L158.82 140.8Z" fill="#1e90ff"/>
<path d="M165.08 141.45H168.08L166.58 144Z" fill="#1e90ff"/>
<path d="M172.84 140.75H175.84L174.34 143.3Z" fill="#1e90ff"/>
<path d="M180.59 141.75H183.59L182.09 144.3Z" fill="#1e90ff"/>
<path d="M188.34 143.05H191.34L189.84 145.6Z" fill="#1e90ff"/>
<polyline points="213.11,109.3 220.87,141.7 228.62,143 236.38,143.8 244.13,146.5 251.88,146.8 259.64,146.2 267.39,142.5" fill="none" stroke="#1e90ff" stroke-width="1.35" stroke-linejoin="round"/>
<path d="M211.61 108.55H214.61L213.11 111.1Z" fill="#1e90ff"/>
<path d="M219.37 140.95H222.37L220.87 143.5Z" fill="#1e90ff"/>
<path d="M227.12 142.25H230.12L228.62 144.8Z" fill="#1e90ff"/>
<path d="M234.88 143.05H237.88L236.38 145.6Z" fill="#1e90ff"/>
<path d="M242.63 145.75H245.63L244.13 148.3Z" fill="#1e90ff"/>
<path d="M250.38 146.05H253.38L251.88 148.6Z" fill="#1e90ff"/>
<path d="M258.14 145.45H261.14L259.64 148Z" fill="#1e90ff"/>
<path d="M265.89 141.75H268.89L267.39 144.3Z" fill="#1e90ff"/>
<polyline points="298.41,133.8 306.17,133.3 313.93,134.9 321.68,133.3 329.44,138.1 337.19,135.4 344.94,135.7" fill="none" stroke="#1e90ff" stroke-width="1.35" stroke-linejoin="round"/>
<path d="M296.91 133.05H299.91L298.41 135.6Z" fill="#1e90ff"/>
<path d="M304.67 132.55H307.67L306.17 135.1Z" fill="#1e90ff"/>
<path d="M312.43 134.15H315.43L313.93 136.7Z" fill="#1e90ff"/>
<path d="M320.18 132.55H323.18L321.68 135.1Z" fill="#1e90ff"/>
<path d="M327.94 137.35H330.94L329.44 139.9Z" fill="#1e90ff"/>
<path d="M335.69 134.65H338.69L337.19 137.2Z" fill="#1e90ff"/>
<path d="M343.44 134.95H346.44L344.94 137.5Z" fill="#1e90ff"/>
<polyline points="383.72,132 391.48,134.3 399.23,131.3 406.99,133.8 414.74,133.3 422.5,134.3" fill="none" stroke="#1e90ff" stroke-width="1.35" stroke-linejoin="round"/>
<path d="M382.22 131.25H385.22L383.72 133.8Z" fill="#1e90ff"/>
<path d="M389.98 133.55H392.98L391.48 136.1Z" fill="#1e90ff"/>
<path d="M397.73 130.55H400.73L399.23 133.1Z" fill="#1e90ff"/>
<path d="M405.49 133.05H408.49L406.99 135.6Z" fill="#1e90ff"/>
<path d="M413.24 132.55H416.24L414.74 135.1Z" fill="#1e90ff"/>
<path d="M421 133.55H424L422.5 136.1Z" fill="#1e90ff"/>
<polyline points="469.02,117.7 476.78,123.3 484.53,122 492.29,121.8 500.05,118" fill="none" stroke="#1e90ff" stroke-width="1.35" stroke-linejoin="round"/>
<path d="M467.52 116.95H470.52L469.02 119.5Z" fill="#1e90ff"/>
<path d="M475.28 122.55H478.28L476.78 125.1Z" fill="#1e90ff"/>
<path d="M483.03 121.25H486.03L484.53 123.8Z" fill="#1e90ff"/>
<path d="M490.79 121.05H493.79L492.29 123.6Z" fill="#1e90ff"/>
<path d="M498.55 117.25H501.55L500.05 119.8Z" fill="#1e90ff"/>
<polyline points="554.33,148.6 562.09,151.7 569.84,151.7 577.6,148.2" fill="none" stroke="#1e90ff" stroke-width="1.35" stroke-linejoin="round"/>
<path d="M552.83 147.85H555.83L554.33 150.4Z" fill="#1e90ff"/>
<path d="M560.59 150.95H563.59L562.09 153.5Z" fill="#1e90ff"/>
<path d="M568.34 150.95H571.34L569.84 153.5Z" fill="#1e90ff"/>
<path d="M576.1 147.45H579.1L577.6 150Z" fill="#1e90ff"/>
<polyline points="639.63,134.1 647.39,134.1 655.14,134.1" fill="none" stroke="#1e90ff" stroke-width="1.35" stroke-linejoin="round"/>
<path d="M638.13 133.35H641.13L639.63 135.9Z" fill="#1e90ff"/>
<path d="M645.89 133.35H648.89L647.39 135.9Z" fill="#1e90ff"/>
<path d="M653.64 133.35H656.64L655.14 135.9Z" fill="#1e90ff"/>
<polyline points="724.94,133.8 732.69,134.8" fill="none" stroke="#1e90ff" stroke-width="1.35" stroke-linejoin="round"/>
<path d="M723.44 133.05H726.44L724.94 135.6Z" fill="#1e90ff"/>
<path d="M731.19 134.05H734.19L732.69 136.6Z" fill="#1e90ff"/>
<rect x="809.25" y="134.3" width="2" height="2" fill="#1e90ff"/>
<polyline points="42.5,100.1 50.26,120.5 58.01,125.4 65.77,130.5 73.52,128.6 81.28,128.1 89.03,127.4 96.78,134.5 104.54,135.9 112.3,128.6" fill="none" stroke="#0000ff" stroke-width="1.35" stroke-linejoin="round"/>
<path d="M41 99.35H44L42.5 101.9Z" fill="#0000ff"/>
<path d="M48.76 119.75H51.76L50.26 122.3Z" fill="#0000ff"/>
<path d="M56.51 124.65H59.51L58.01 127.2Z" fill="#0000ff"/>
<path d="M64.27 129.75H67.27L65.77 132.3Z" fill="#0000ff"/>
<path d="M72.02 127.85H75.02L73.52 130.4Z" fill="#0000ff"/>
<path d="M79.78 127.35H82.78L81.28 129.9Z" fill="#0000ff"/>
<path d="M87.53 126.65H90.53L89.03 129.2Z" fill="#0000ff"/>
<path d="M95.28 133.75H98.28L96.78 136.3Z" fill="#0000ff"/>
<path d="M103.04 135.15H106.04L104.54 137.7Z" fill="#0000ff"/>
<path d="M110.8 127.85H113.8L112.3 130.4Z" fill="#0000ff"/>
<polyline points="127.8,118.3 135.56,121.4 143.31,119.3 151.07,119.6 158.82,117.9 166.58,122.5 174.34,121.7 182.09,122.5 189.84,123" fill="none" stroke="#0000ff" stroke-width="1.35" stroke-linejoin="round"/>
<path d="M126.3 117.55H129.31L127.8 120.1Z" fill="#0000ff"/>
<path d="M134.06 120.65H137.06L135.56 123.2Z" fill="#0000ff"/>
<path d="M141.81 118.55H144.81L143.31 121.1Z" fill="#0000ff"/>
<path d="M149.57 118.85H152.57L151.07 121.4Z" fill="#0000ff"/>
<path d="M157.32 117.15H160.32L158.82 119.7Z" fill="#0000ff"/>
<path d="M165.08 121.75H168.08L166.58 124.3Z" fill="#0000ff"/>
<path d="M172.84 120.95H175.84L174.34 123.5Z" fill="#0000ff"/>
<path d="M180.59 121.75H183.59L182.09 124.3Z" fill="#0000ff"/>
<path d="M188.34 122.25H191.34L189.84 124.8Z" fill="#0000ff"/>
<polyline points="213.11,112.4 220.87,110.7 228.62,114.1 236.38,115.8 244.13,117.2 251.88,116.6 259.64,121.7 267.39,120.9" fill="none" stroke="#0000ff" stroke-width="1.35" stroke-linejoin="round"/>
<path d="M211.61 111.65H214.61L213.11 114.2Z" fill="#0000ff"/>
<path d="M219.37 109.95H222.37L220.87 112.5Z" fill="#0000ff"/>
<path d="M227.12 113.35H230.12L228.62 115.9Z" fill="#0000ff"/>
<path d="M234.88 115.05H237.88L236.38 117.6Z" fill="#0000ff"/>
<path d="M242.63 116.45H245.63L244.13 119Z" fill="#0000ff"/>
<path d="M250.38 115.85H253.38L251.88 118.4Z" fill="#0000ff"/>
<path d="M258.14 120.95H261.14L259.64 123.5Z" fill="#0000ff"/>
<path d="M265.89 120.15H268.89L267.39 122.7Z" fill="#0000ff"/>
<polyline points="298.41,114.6 306.17,112.2 313.93,113 321.68,113.5 329.44,114.3 337.19,116 344.94,115.3" fill="none" stroke="#0000ff" stroke-width="1.35" stroke-linejoin="round"/>
<path d="M296.91 113.85H299.91L298.41 116.4Z" fill="#0000ff"/>
<path d="M304.67 111.45H307.67L306.17 114Z" fill="#0000ff"/>
<path d="M312.43 112.25H315.43L313.93 114.8Z" fill="#0000ff"/>
<path d="M320.18 112.75H323.18L321.68 115.3Z" fill="#0000ff"/>
<path d="M327.94 113.55H330.94L329.44 116.1Z" fill="#0000ff"/>
<path d="M335.69 115.25H338.69L337.19 117.8Z" fill="#0000ff"/>
<path d="M343.44 114.55H346.44L344.94 117.1Z" fill="#0000ff"/>
<polyline points="383.72,126.7 391.48,127.4 399.23,128.8 406.99,130.1 414.74,125.8 422.5,129.2" fill="none" stroke="#0000ff" stroke-width="1.35" stroke-linejoin="round"/>
<path d="M382.22 125.95H385.22L383.72 128.5Z" fill="#0000ff"/>
<path d="M389.98 126.65H392.98L391.48 129.2Z" fill="#0000ff"/>
<path d="M397.73 128.05H400.73L399.23 130.6Z" fill="#0000ff"/>
<path d="M405.49 129.35H408.49L406.99 131.9Z" fill="#0000ff"/>
<path d="M413.24 125.05H416.24L414.74 127.6Z" fill="#0000ff"/>
<path d="M421 128.45H424L422.5 131Z" fill="#0000ff"/>
<polyline points="469.02,118 476.78,119.8 484.53,117.5 492.29,115.6 500.05,119.8" fill="none" stroke="#0000ff" stroke-width="1.35" stroke-linejoin="round"/>
<path d="M467.52 117.25H470.52L469.02 119.8Z" fill="#0000ff"/>
<path d="M475.28 119.05H478.28L476.78 121.6Z" fill="#0000ff"/>
<path d="M483.03 116.75H486.03L484.53 119.3Z" fill="#0000ff"/>
<path d="M490.79 114.85H493.79L492.29 117.4Z" fill="#0000ff"/>
<path d="M498.55 119.05H501.55L500.05 121.6Z" fill="#0000ff"/>
<polyline points="554.33,141.2 562.09,139.2 569.84,144.8 577.6,145.6" fill="none" stroke="#0000ff" stroke-width="1.35" stroke-linejoin="round"/>
<path d="M552.83 140.45H555.83L554.33 143Z" fill="#0000ff"/>
<path d="M560.59 138.45H563.59L562.09 141Z" fill="#0000ff"/>
<path d="M568.34 144.05H571.34L569.84 146.6Z" fill="#0000ff"/>
<path d="M576.1 144.85H579.1L577.6 147.4Z" fill="#0000ff"/>
<polyline points="639.63,122.3 647.39,123.6 655.14,120" fill="none" stroke="#0000ff" stroke-width="1.35" stroke-linejoin="round"/>
<path d="M638.13 121.55H641.13L639.63 124.1Z" fill="#0000ff"/>
<path d="M645.89 122.85H648.89L647.39 125.4Z" fill="#0000ff"/>
<path d="M653.64 119.25H656.64L655.14 121.8Z" fill="#0000ff"/>
<polyline points="724.94,120.5 732.69,126.5" fill="none" stroke="#0000ff" stroke-width="1.35" stroke-linejoin="round"/>
<path d="M723.44 119.75H726.44L724.94 122.3Z" fill="#0000ff"/>
<path d="M731.19 125.75H734.19L732.69 128.3Z" fill="#0000ff"/>
<rect x="809.25" y="118.2" width="2" height="2" fill="#0000ff"/>
<path d="M112.3 78H115.89M112.3 78L110.5 74.88M112.3 78L110.5 81.12" stroke="#777777" stroke-width="1.05" fill="none"/>
<path d="M189.84 88.6H193.44M189.84 88.6L188.04 85.48M189.84 88.6L188.04 91.72" stroke="#777777" stroke-width="1.05" fill="none"/>
<path d="M267.39 87.8H271M267.39 87.8L265.59 84.68M267.39 87.8L265.59 90.92" stroke="#777777" stroke-width="1.05" fill="none"/>
<path d="M344.94 76.3H348.55M344.94 76.3L343.14 73.18M344.94 76.3L343.14 79.42" stroke="#777777" stroke-width="1.05" fill="none"/>
<path d="M422.5 98.5H426.1M422.5 98.5L420.69 95.38M422.5 98.5L420.69 101.62" stroke="#777777" stroke-width="1.05" fill="none"/>
<path d="M500.05 75.9H503.65M500.05 75.9L498.25 72.78M500.05 75.9L498.25 79.02" stroke="#777777" stroke-width="1.05" fill="none"/>
<path d="M577.6 95.4H581.2M577.6 95.4L575.8 92.28M577.6 95.4L575.8 98.52" stroke="#777777" stroke-width="1.05" fill="none"/>
<path d="M655.14 85.4H658.75M655.14 85.4L653.35 82.28M655.14 85.4L653.35 88.52" stroke="#777777" stroke-width="1.05" fill="none"/>
<path d="M732.69 81.6H736.29M732.69 81.6L730.89 78.48M732.69 81.6L730.89 84.72" stroke="#777777" stroke-width="1.05" fill="none"/>
<path d="M810.25 97H813.85M810.25 97L808.45 93.88M810.25 97L808.45 100.12" stroke="#777777" stroke-width="1.05" fill="none"/>
<line x1="34" y1="66.1" x2="825.5" y2="66.1" stroke="#666" stroke-width="1.5"/>
<line x1="34" y1="289.7" x2="825.5" y2="289.7" stroke="#5a5a5a" stroke-width="1.6"/>
<line x1="34.5" y1="65.4" x2="34.5" y2="290.3" stroke="#111" stroke-width="1.2"/>
<line x1="825.4" y1="65.4" x2="825.4" y2="290.3" stroke="#111" stroke-width="1.3"/>
<line x1="31.8" y1="289.5" x2="34" y2="289.5" stroke="#555" stroke-width="1"/>
<text x="30.5" y="294" text-anchor="end" font-size="13.4" font-family="Liberation Serif, serif" fill="#111" stroke="#111" stroke-width="0.1">0</text>
<line x1="31.8" y1="253.08" x2="34" y2="253.08" stroke="#555" stroke-width="1"/>
<text x="30.5" y="257.58" text-anchor="end" font-size="13.4" font-family="Liberation Serif, serif" fill="#111" stroke="#111" stroke-width="0.1">10</text>
<line x1="31.8" y1="216.66" x2="34" y2="216.66" stroke="#555" stroke-width="1"/>
<text x="30.5" y="221.16" text-anchor="end" font-size="13.4" font-family="Liberation Serif, serif" fill="#111" stroke="#111" stroke-width="0.1">20</text>
<line x1="31.8" y1="180.24" x2="34" y2="180.24" stroke="#555" stroke-width="1"/>
<text x="30.5" y="184.74" text-anchor="end" font-size="13.4" font-family="Liberation Serif, serif" fill="#111" stroke="#111" stroke-width="0.1">30</text>
<line x1="31.8" y1="143.82" x2="34" y2="143.82" stroke="#555" stroke-width="1"/>
<text x="30.5" y="148.32" text-anchor="end" font-size="13.4" font-family="Liberation Serif, serif" fill="#111" stroke="#111" stroke-width="0.1">40</text>
<line x1="31.8" y1="107.4" x2="34" y2="107.4" stroke="#555" stroke-width="1"/>
<text x="30.5" y="111.9" text-anchor="end" font-size="13.4" font-family="Liberation Serif, serif" fill="#111" stroke="#111" stroke-width="0.1">50</text>
<line x1="31.8" y1="70.98" x2="34" y2="70.98" stroke="#555" stroke-width="1"/>
<text x="30.5" y="75.48" text-anchor="end" font-size="13.4" font-family="Liberation Serif, serif" fill="#111" stroke="#111" stroke-width="0.1">60</text>
<line x1="42.2" y1="289.5" x2="42.2" y2="291.8" stroke="#555" stroke-width="1"/>
<text x="42.2" y="300.3" text-anchor="middle" font-size="11.3" font-family="Liberation Serif, serif" fill="#111" stroke="#111" stroke-width="0.1">T1</text>
<line x1="127.5" y1="289.5" x2="127.5" y2="291.8" stroke="#555" stroke-width="1"/>
<text x="127.5" y="300.3" text-anchor="middle" font-size="11.3" font-family="Liberation Serif, serif" fill="#111" stroke="#111" stroke-width="0.1">T2</text>
<line x1="212.81" y1="289.5" x2="212.81" y2="291.8" stroke="#555" stroke-width="1"/>
<text x="212.81" y="300.3" text-anchor="middle" font-size="11.3" font-family="Liberation Serif, serif" fill="#111" stroke="#111" stroke-width="0.1">T3</text>
<line x1="298.11" y1="289.5" x2="298.11" y2="291.8" stroke="#555" stroke-width="1"/>
<text x="298.11" y="300.3" text-anchor="middle" font-size="11.3" font-family="Liberation Serif, serif" fill="#111" stroke="#111" stroke-width="0.1">T4</text>
<line x1="383.42" y1="289.5" x2="383.42" y2="291.8" stroke="#555" stroke-width="1"/>
<text x="383.42" y="300.3" text-anchor="middle" font-size="11.3" font-family="Liberation Serif, serif" fill="#111" stroke="#111" stroke-width="0.1">T5</text>
<line x1="468.72" y1="289.5" x2="468.72" y2="291.8" stroke="#555" stroke-width="1"/>
<text x="468.72" y="300.3" text-anchor="middle" font-size="11.3" font-family="Liberation Serif, serif" fill="#111" stroke="#111" stroke-width="0.1">T6</text>
<line x1="554.03" y1="289.5" x2="554.03" y2="291.8" stroke="#555" stroke-width="1"/>
<text x="554.03" y="300.3" text-anchor="middle" font-size="11.3" font-family="Liberation Serif, serif" fill="#111" stroke="#111" stroke-width="0.1">T7</text>
<line x1="639.34" y1="289.5" x2="639.34" y2="291.8" stroke="#555" stroke-width="1"/>
<text x="639.34" y="300.3" text-anchor="middle" font-size="11.3" font-family="Liberation Serif, serif" fill="#111" stroke="#111" stroke-width="0.1">T8</text>
<line x1="724.64" y1="289.5" x2="724.64" y2="291.8" stroke="#555" stroke-width="1"/>
<text x="724.64" y="300.3" text-anchor="middle" font-size="11.3" font-family="Liberation Serif, serif" fill="#111" stroke="#111" stroke-width="0.1">T9</text>
<line x1="809.95" y1="289.5" x2="809.95" y2="291.8" stroke="#555" stroke-width="1"/>
<text x="809.95" y="300.3" text-anchor="middle" font-size="11.3" font-family="Liberation Serif, serif" fill="#111" stroke="#111" stroke-width="0.1">T10</text>
<text x="80.9" y="62.1" text-anchor="middle" font-size="11.3" font-family="Liberation Serif, serif" fill="#111" stroke="#111" stroke-width="0.1">T1</text>
<text x="158.5" y="62.1" text-anchor="middle" font-size="11.3" font-family="Liberation Serif, serif" fill="#111" stroke="#111" stroke-width="0.1">T2</text>
<text x="236.1" y="62.1" text-anchor="middle" font-size="11.3" font-family="Liberation Serif, serif" fill="#111" stroke="#111" stroke-width="0.1">T3</text>
<text x="313.7" y="62.1" text-anchor="middle" font-size="11.3" font-family="Liberation Serif, serif" fill="#111" stroke="#111" stroke-width="0.1">T4</text>
<text x="391.3" y="62.1" text-anchor="middle" font-size="11.3" font-family="Liberation Serif, serif" fill="#111" stroke="#111" stroke-width="0.1">T5</text>
<text x="468.9" y="62.1" text-anchor="middle" font-size="11.3" font-family="Liberation Serif, serif" fill="#111" stroke="#111" stroke-width="0.1">T6</text>
<text x="546.5" y="62.1" text-anchor="middle" font-size="11.3" font-family="Liberation Serif, serif" fill="#111" stroke="#111" stroke-width="0.1">T7</text>
<text x="624.1" y="62.1" text-anchor="middle" font-size="11.3" font-family="Liberation Serif, serif" fill="#111" stroke="#111" stroke-width="0.1">T8</text>
<text x="701.7" y="62.1" text-anchor="middle" font-size="11.3" font-family="Liberation Serif, serif" fill="#111" stroke="#111" stroke-width="0.1">T9</text>
<text x="779.3" y="62.1" text-anchor="middle" font-size="11.3" font-family="Liberation Serif, serif" fill="#111" stroke="#111" stroke-width="0.1">T10</text>
<text x="430" y="49.5" text-anchor="middle" font-size="12.4" font-family="Liberation Serif, serif" fill="#111" stroke="#111" stroke-width="0.15" textLength="107.6" lengthAdjust="spacingAndGlyphs">Evaluation on Task</text>
<text x="430" y="313.8" text-anchor="middle" font-size="12.6" font-family="Liberation Serif, serif" fill="#111" stroke="#111" stroke-width="0.15" textLength="159.2" lengthAdjust="spacingAndGlyphs">Training Sequence Per Task</text>
<text transform="translate(11.7,177.3) rotate(-90)" text-anchor="middle" font-size="12.2" font-family="Liberation Serif, serif" fill="#111" stroke="#111" stroke-width="0.15" textLength="67.6" lengthAdjust="spacingAndGlyphs">Accuracy %</text>
<rect x="39.5" y="3.5" width="780.7" height="30.3" rx="2" fill="#fff" fill-opacity="0.8" stroke="#d6d6d6" stroke-width="1"/>
<line x1="42.6" y1="11.2" x2="61" y2="11.2" stroke="#000" stroke-width="1.3" stroke-dasharray="1.2 1.8"/>
<path d="M51.3 11.2H53.5M51.3 11.2L50.2 9.29M51.3 11.2L50.2 13.11" stroke="#000" stroke-width="1" fill="none"/>
<text x="68.6" y="14.75" font-size="11.3" font-family="Liberation Serif, serif" fill="#111" stroke="#111" stroke-width="0.12" textLength="118.3" lengthAdjust="spacingAndGlyphs">finetuning: 21.30 (26.90)</text>
<path d="M52.6 24.8H54.9M52.6 24.8L51.45 22.81M52.6 24.8L51.45 26.79" stroke="#888" stroke-width="0.9" fill="none"/>
<text x="67.5" y="28" font-size="11.3" font-family="Liberation Serif, serif" fill="#111" stroke="#111" stroke-width="0.12" textLength="84.7" lengthAdjust="spacingAndGlyphs">joint*: 55.70 (n/a)</text>
<line x1="219" y1="11.2" x2="238.9" y2="11.2" stroke="#2ca02c" stroke-width="1.5"/>
<path d="M226.65 8.9L231.25 13.5M226.65 13.5L231.25 8.9" stroke="#2ca02c" stroke-width="0.9" fill="none"/>
<text x="245.6" y="14.75" font-size="11.3" font-family="Liberation Serif, serif" fill="#111" stroke="#111" stroke-width="0.12" textLength="103.5" lengthAdjust="spacingAndGlyphs">PackNet: 49.13 (0.00)</text>
<line x1="219" y1="24.8" x2="238.9" y2="24.8" stroke="#e377c2" stroke-width="1.5"/>
<path d="M226.65 22.5L231.25 27.1M226.65 27.1L231.25 22.5" stroke="#e377c2" stroke-width="0.9" fill="none"/>
<text x="245.6" y="28" font-size="11.3" font-family="Liberation Serif, serif" fill="#111" stroke="#111" stroke-width="0.12" textLength="85" lengthAdjust="spacingAndGlyphs">HAT: 43.57 (0.00)</text>
<line x1="381.2" y1="11.2" x2="400.8" y2="11.2" stroke="#ff8c00" stroke-width="1.5"/>
<path d="M391 11.2V13.6M391 11.2L388.92 10M391 11.2L393.08 10" stroke="#ff8c00" stroke-width="1" fill="none"/>
<text x="407.5" y="14.75" font-size="11.3" font-family="Liberation Serif, serif" fill="#111" stroke="#111" stroke-width="0.12" textLength="80.1" lengthAdjust="spacingAndGlyphs">SI: 33.93 (15.77)</text>
<line x1="381.2" y1="24.8" x2="400.8" y2="24.8" stroke="#ffd700" stroke-width="1.5"/>
<path d="M391 24.8V27.2M391 24.8L388.92 23.6M391 24.8L393.08 23.6" stroke="#ffd700" stroke-width="1" fill="none"/>
<text x="407.5" y="28" font-size="11.3" font-family="Liberation Serif, serif" fill="#111" stroke="#111" stroke-width="0.12" textLength="87.4" lengthAdjust="spacingAndGlyphs">EWC: 42.43 (7.51)</text>
<line x1="527" y1="11.2" x2="547.1" y2="11.2" stroke="#ff0000" stroke-width="1.5"/>
<path d="M537.05 11.2V13.6M537.05 11.2L534.97 10M537.05 11.2L539.13 10" stroke="#ff0000" stroke-width="1" fill="none"/>
<text x="553.1" y="14.75" font-size="11.3" font-family="Liberation Serif, serif" fill="#111" stroke="#111" stroke-width="0.12" textLength="86.8" lengthAdjust="spacingAndGlyphs">MAS: 46.90 (1.58)</text>
<line x1="527" y1="24.8" x2="547.1" y2="24.8" stroke="#8c564b" stroke-width="1.5"/>
<path d="M534.55 24.8H539.55M537.05 22.3V27.3" stroke="#8c564b" stroke-width="1" fill="none"/>
<text x="553.1" y="28" font-size="11.3" font-family="Liberation Serif, serif" fill="#111" stroke="#111" stroke-width="0.12" textLength="116.1" lengthAdjust="spacingAndGlyphs">mode-IMM: 36.89 (0.98)</text>
<line x1="701" y1="11.2" x2="720.7" y2="11.2" stroke="#1e90ff" stroke-width="1.5"/>
<path d="M708.25 10.18H713.45L710.85 14.6Z" fill="#1e90ff"/>
<text x="727.5" y="14.75" font-size="11.3" font-family="Liberation Serif, serif" fill="#111" stroke="#111" stroke-width="0.12" textLength="84.1" lengthAdjust="spacingAndGlyphs">LwF: 41.91 (3.08)</text>
<line x1="701" y1="24.8" x2="720.7" y2="24.8" stroke="#0000ff" stroke-width="1.5"/>
<path d="M708.25 23.78H713.45L710.85 28.2Z" fill="#0000ff"/>
<text x="727.5" y="28" font-size="11.3" font-family="Liberation Serif, serif" fill="#111" stroke="#111" stroke-width="0.12" textLength="89.6" lengthAdjust="spacingAndGlyphs">EBLL: 45.34 (1.44)</text>
</svg></body></html>
